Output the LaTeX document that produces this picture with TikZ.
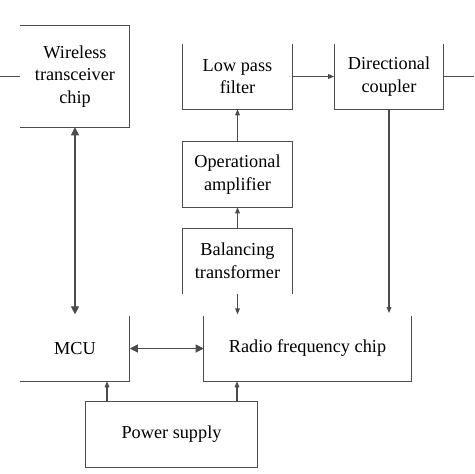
\documentclass[tikz,border=0pt]{standalone}
\usepackage{fontspec}
\setmainfont{LiberationSerif}[Extension=.ttf, UprightFont=*-Regular]
\usetikzlibrary{arrows.meta, positioning, calc}

\begin{document}
\begin{tikzpicture}[
    x=0.75pt, y=-0.75pt,
    every node/.style={font=\rmfamily\fontsize{13.7}{16.9}\selectfont, align=center, inner sep=0pt},
    block/.style={rectangle, minimum width=109*0.75pt, minimum height=65*0.75pt},
    edge/.style={draw=black!70, line width=0.8pt},
    arrow/.style={edge, -{Triangle[length=4.5pt, width=3.5pt]}},
    bigarrow/.style={edge, {Triangle[length=6pt, width=6pt]}-{Triangle[length=6pt, width=6pt]}}
]
\useasboundingbox (0,0) rectangle (474,474);

% Nodes
\node[block, minimum height=101*0.75pt] (wireless) at (75,76.5) {Wireless\\transceiver\\chip};
\node[block] (lowpass) at (237.5,76.5) {Low pass\\filter};
\node[block] (coupler) at (389,76.5) {Directional\\coupler};
\node[block] (opamp) at (237.5,174.5) {Operational\\amplifier};
\node[block] (balancing) at (237.5,261) {Balancing\\transformer};
\node[block] (mcu) at (75,348.5) {MCU};
\node[block, minimum width=207*0.75pt] (rfchip) at (307.5,348.5) {Radio frequency chip};
\node[block, minimum width=171*0.75pt] (power) at (171.5,434.5) {Power supply};
\coordinate (leftend) at (0,76.5);
\coordinate (rightend) at (474,76.5);

% Borders
\draw[edge] (wireless.north west) -- (wireless.north east) -- (wireless.south east) -- (wireless.south west);
\draw[edge] (lowpass.north west) -- (lowpass.south west) -- (lowpass.south east) -- (lowpass.north east);
\draw[edge] (coupler.north west) -- (coupler.south west) -- (coupler.south east) -- (coupler.north east);
\draw[edge] (opamp.north west) rectangle (opamp.south east);
\draw[edge] (balancing.south west) -- (balancing.north west) -- (balancing.north east) -- (balancing.south east);
\draw[edge] (mcu.north east) -- (mcu.south east) -- (mcu.south west);
\draw[edge] (rfchip.north west) -- (rfchip.south west) -- (rfchip.south east) -- (rfchip.north east);
\draw[edge] (power.north west) rectangle (power.south east);

% Arrows
\draw[edge] (leftend) -- (wireless.west);
\draw[arrow] (lowpass.east) -- (coupler.west);
\draw[edge] (coupler.east) -- (rightend);
\draw[arrow] (opamp.north) -- (lowpass.south);
\draw[arrow] (balancing.north) -- (opamp.south);
\draw[arrow] (balancing.south) -- ([yshift=1pt]balancing.south |- rfchip.north);
\draw[arrow] (coupler.south) -- ([yshift=2pt]coupler.south |- rfchip.north);
\draw[bigarrow] (wireless.south) -- ([yshift=1pt]mcu.north);
\draw[bigarrow] (mcu.east) -- (rfchip.west);
\draw[arrow] (power.north -| 107,0) -- (mcu.south -| 107,0);
\draw[arrow] (power.north -| 237,0) -- (rfchip.south -| 237,0);

\end{tikzpicture}
\end{document}
